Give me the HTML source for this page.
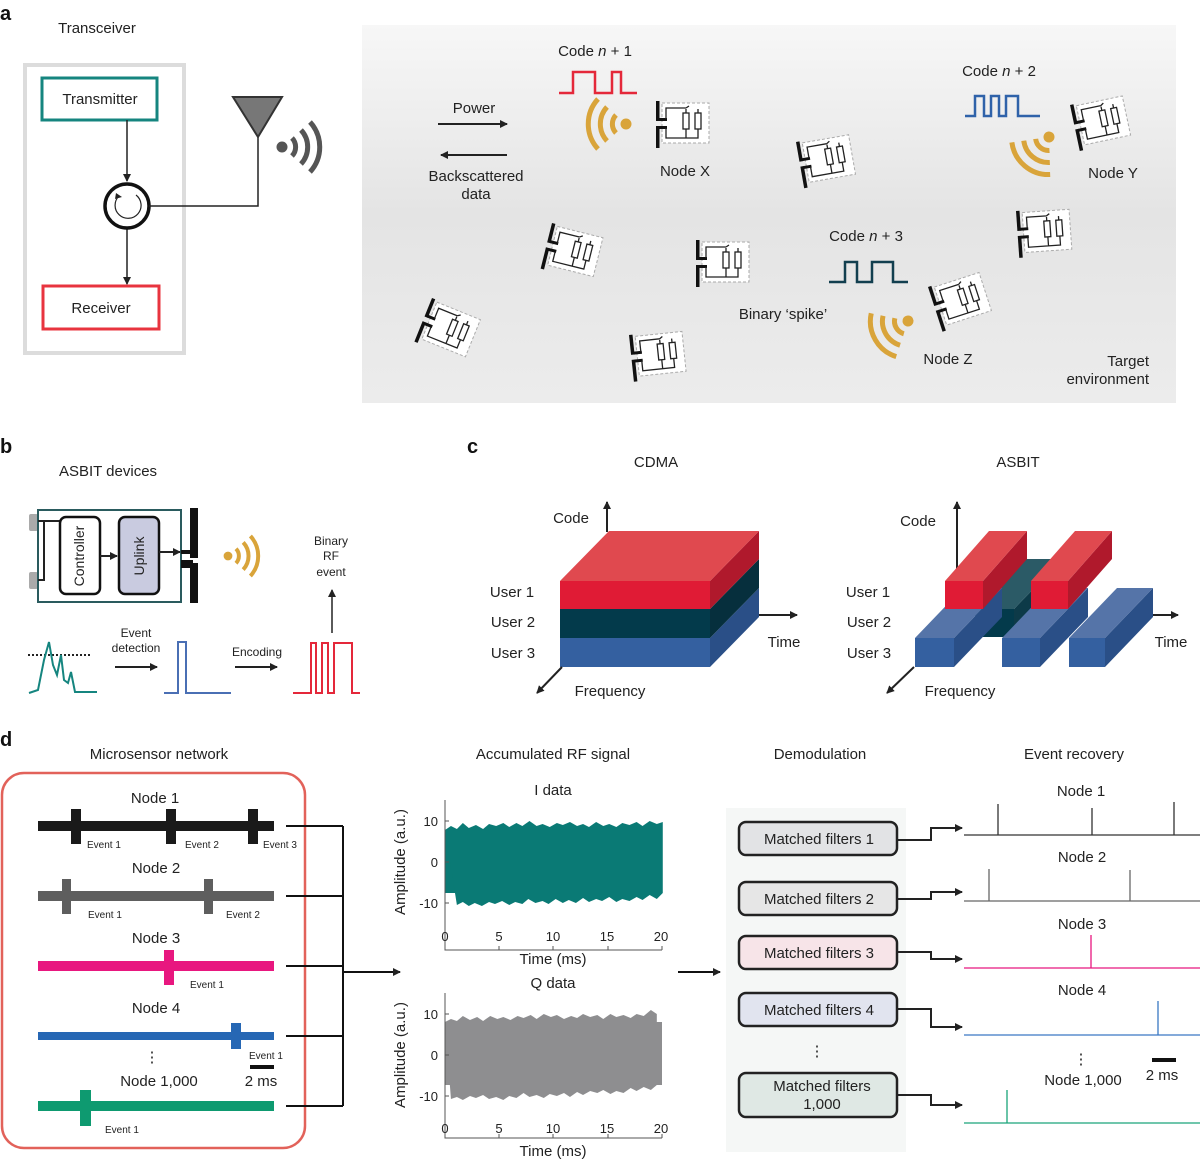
<!DOCTYPE html>
<html><head><meta charset="utf-8"><style>
html,body{margin:0;padding:0;background:#fff}
svg{display:block}
text{font-family:"Liberation Sans",sans-serif;fill:#222}
</style></head><body>
<svg width="1200" height="1161" viewBox="0 0 1200 1161" xmlns="http://www.w3.org/2000/svg">
<defs>
<linearGradient id="bg" x1="0" y1="0" x2="0" y2="1">
<stop offset="0" stop-color="#f7f7f7"/><stop offset="0.5" stop-color="#e4e4e4"/><stop offset="1" stop-color="#ececec"/></linearGradient>
<marker id="ah" markerWidth="8" markerHeight="8" refX="7" refY="4" orient="auto" markerUnits="userSpaceOnUse"><path d="M0,0 L8,4 L0,8 Z" fill="#222"/></marker>
<g id="nd">
<rect x="6" y="2" width="47" height="40" fill="#fff" stroke="#aaa" stroke-dasharray="3,2"/>
<rect x="0" y="0" width="3.5" height="20" fill="#111"/><rect x="0" y="25" width="3.5" height="22" fill="#111"/>
<rect x="3" y="17" width="8" height="3" fill="#111"/><rect x="3" y="25" width="8" height="3" fill="#111"/>
<path d="M10,18 V7 H30 M10,27 V37 H42 V28 M30,37 V28 M30,7 L33,5" fill="none" stroke="#222" stroke-width="1.3"/>
<rect x="27" y="12" width="6" height="16" fill="#fff" stroke="#222" stroke-width="1.3"/>
<rect x="39" y="12" width="6" height="16" fill="#fff" stroke="#222" stroke-width="1.3"/>
<path d="M30,12 V8 M42,12 V8" stroke="#222" stroke-width="1.3"/>
</g>
<g id="wv">
<circle cx="0" cy="0" r="5"/>
<path d="M-10,-9 A13,13 0 0 0 -10,9" fill="none" stroke-width="5"/>
<path d="M-19,-17 A25,25 0 0 0 -19,17" fill="none" stroke-width="5"/>
<path d="M-28,-25 A37,37 0 0 0 -28,25" fill="none" stroke-width="5"/>
</g>
</defs>

<g font-weight="bold" font-size="20"><text x="0" y="20" style="fill:#111">a</text><text x="0" y="453" style="fill:#111">b</text><text x="467" y="453" style="fill:#111">c</text><text x="0" y="746" style="fill:#111">d</text></g>

<!-- Panel a -->
<text x="97" y="33" font-size="15" text-anchor="middle">Transceiver</text>
<rect x="25" y="65" width="159" height="288" fill="none" stroke="#dcdcdc" stroke-width="4"/>
<rect x="42" y="78" width="115" height="42" fill="#fff" stroke="#15857f" stroke-width="3"/>
<text x="100" y="104" font-size="15" text-anchor="middle">Transmitter</text>
<rect x="43" y="286" width="116" height="43" fill="#fff" stroke="#e8343f" stroke-width="3"/>
<text x="101" y="313" font-size="15" text-anchor="middle">Receiver</text>
<line x1="127" y1="120" x2="127" y2="181" stroke="#222" stroke-width="1.5" marker-end="url(#ah)"/>
<line x1="127" y1="229" x2="127" y2="284" stroke="#222" stroke-width="1.5" marker-end="url(#ah)"/>
<circle cx="127" cy="206" r="22" fill="#fff" stroke="#111" stroke-width="3.5"/>
<path d="M136,195 A13,13 0 1 1 119,196" fill="none" stroke="#222" stroke-width="1.2"/>
<path d="M116,193 L122,197 L115,199Z" fill="#222"/>
<polyline points="149,206 258,206 258,136" fill="none" stroke="#222" stroke-width="1.5"/>
<path d="M233,97 L282,97 L258,137 Z" fill="#777" stroke="#333" stroke-width="2"/>
<g transform="translate(282,147) scale(-1,1)" fill="#555" stroke="#555"><use href="#wv"/></g>

<rect x="362" y="25" width="814" height="378" fill="url(#bg)"/>
<text x="474" y="113" font-size="15" text-anchor="middle">Power</text>
<line x1="438" y1="124" x2="507" y2="124" stroke="#222" stroke-width="2" marker-end="url(#ah)"/>
<line x1="507" y1="155" x2="441" y2="155" stroke="#222" stroke-width="2" marker-end="url(#ah)"/>
<text x="476" y="181" font-size="15" text-anchor="middle">Backscattered</text>
<text x="476" y="199" font-size="15" text-anchor="middle">data</text>
<text x="595" y="56" font-size="15" text-anchor="middle">Code <tspan font-style="italic">n</tspan> + 1</text>
<polyline points="559,93 573,93 573,72 595,72 595,93 612,93 612,72 621,72 621,93 637,93" fill="none" stroke="#e4283a" stroke-width="2.5"/>
<g transform="translate(626,124)" fill="#d9a43a" stroke="#d9a43a"><use href="#wv"/></g>
<use href="#nd" x="656" y="101"/>
<text x="685" y="176" font-size="15" text-anchor="middle">Node X</text>
<text x="999" y="76" font-size="15" text-anchor="middle">Code <tspan font-style="italic">n</tspan> + 2</text>
<polyline points="965,116 975,116 975,96 984,96 984,116 991,116 991,96 999,96 999,116 1006,116 1006,96 1018,96 1018,116 1040,116" fill="none" stroke="#2f62a9" stroke-width="2.5"/>
<g transform="translate(1049,137) rotate(-50)" fill="#d9a43a" stroke="#d9a43a"><use href="#wv"/></g>
<use href="#nd" transform="translate(1070,105) rotate(-12)"/>
<text x="1113" y="178" font-size="15" text-anchor="middle">Node Y</text>
<use href="#nd" transform="translate(796,142) rotate(-10)"/>
<use href="#nd" transform="translate(552,223) rotate(14)"/>
<use href="#nd" transform="translate(696,240)"/>
<use href="#nd" transform="translate(1016,211) rotate(-4)"/>
<use href="#nd" transform="translate(432,298) rotate(22)"/>
<use href="#nd" transform="translate(629,335) rotate(-6)"/>
<use href="#nd" transform="translate(928,287) rotate(-18)"/>
<text x="866" y="241" font-size="15" text-anchor="middle">Code <tspan font-style="italic">n</tspan> + 3</text>
<polyline points="829,282 845,282 845,262 857,262 857,282 872,282 872,262 893,262 893,282 908,282" fill="none" stroke="#123f4f" stroke-width="2.5"/>
<text x="783" y="319" font-size="15" text-anchor="middle">Binary ‘spike’</text>
<g transform="translate(908,321) rotate(-30)" fill="#d9a43a" stroke="#d9a43a"><use href="#wv"/></g>
<text x="948" y="364" font-size="15" text-anchor="middle">Node Z</text>
<text x="1149" y="366" font-size="15" text-anchor="end">Target</text>
<text x="1149" y="384" font-size="15" text-anchor="end">environment</text>

<!-- Panel b -->
<text x="108" y="476" font-size="15" text-anchor="middle">ASBIT devices</text>
<rect x="29" y="514" width="9" height="17" rx="2" fill="#aaa"/><rect x="29" y="572" width="9" height="17" rx="2" fill="#aaa"/>
<rect x="38" y="510" width="143" height="92" fill="none" stroke="#2a5b5e" stroke-width="2"/>
<path d="M38,521 H60 M44,521 V580 H38 M38,580 H44" fill="none" stroke="#222" stroke-width="2"/>
<rect x="60" y="517" width="40" height="77" rx="6" fill="#fff" stroke="#111" stroke-width="2.5"/>
<text transform="translate(84,556) rotate(-90)" font-size="14" text-anchor="middle">Controller</text>
<rect x="119" y="517" width="40" height="77" rx="6" fill="#c9cbe0" stroke="#111" stroke-width="2.5"/>
<text transform="translate(144,556) rotate(-90)" font-size="14" text-anchor="middle">Uplink</text>
<line x1="100" y1="556" x2="117" y2="556" stroke="#222" stroke-width="2" marker-end="url(#ah)"/>
<line x1="159" y1="552" x2="180" y2="552" stroke="#222" stroke-width="2" marker-end="url(#ah)"/>
<rect x="190" y="508" width="8" height="50" fill="#111"/><rect x="190" y="563" width="8" height="40" fill="#111"/>
<rect x="181" y="550" width="12" height="4" fill="#111"/><rect x="181" y="560" width="12" height="8" fill="#111"/>
<g transform="translate(228,556) scale(-0.8,0.8)" fill="#d9a43a" stroke="#d9a43a"><use href="#wv"/></g>
<text x="331" y="545" font-size="12" text-anchor="middle">Binary</text>
<text x="331" y="560" font-size="12" text-anchor="middle">RF</text>
<text x="331" y="576" font-size="12" text-anchor="middle">event</text>
<line x1="332" y1="633" x2="332" y2="590" stroke="#222" stroke-width="1.5" marker-end="url(#ah)"/>
<line x1="28" y1="655" x2="92" y2="655" stroke="#222" stroke-width="2" stroke-dasharray="2,2"/>
<polyline points="29,693 38,690 44,660 49,642 53,665 57,675 61,655 64,680 68,683 71,672 75,692 97,692" fill="none" stroke="#15857f" stroke-width="2"/>
<text x="136" y="637" font-size="12" text-anchor="middle">Event</text>
<text x="136" y="652" font-size="12" text-anchor="middle">detection</text>
<line x1="115" y1="667" x2="157" y2="667" stroke="#222" stroke-width="2" marker-end="url(#ah)"/>
<polyline points="164,693 178,693 178,642 186,642 186,693 231,693" fill="none" stroke="#4a6fb4" stroke-width="2"/>
<text x="257" y="656" font-size="12" text-anchor="middle">Encoding</text>
<line x1="235" y1="667" x2="277" y2="667" stroke="#222" stroke-width="2" marker-end="url(#ah)"/>
<polyline points="293,693 311,693 311,643 316,643 316,693 322,693 322,643 328,643 328,693 334,693 334,643 352,643 352,693 360,693" fill="none" stroke="#e4283a" stroke-width="2"/>

<!-- Panel c -->
<text x="656" y="467" font-size="15" text-anchor="middle">CDMA</text>
<text x="1018" y="467" font-size="15" text-anchor="middle">ASBIT</text>
<line x1="607" y1="532" x2="607" y2="502" stroke="#222" stroke-width="2" marker-end="url(#ah)"/>
<text x="571" y="523" font-size="15" text-anchor="middle">Code</text>
<polygon points="710,638 759,588 759,617 710,667" fill="#2a4f87"/>
<polygon points="710,609 759,559 759,588 710,638" fill="#062f3d"/>
<polygon points="710,581 759,531 759,559 710,609" fill="#b0192c"/>
<polygon points="560,581 609,531 759,531 710,581" fill="#e0494f"/>
<rect x="560" y="581" width="150" height="28" fill="#e01b35"/>
<rect x="560" y="609" width="150" height="29" fill="#033a4b"/>
<rect x="560" y="638" width="150" height="29" fill="#3460a0"/>
<line x1="759" y1="615" x2="797" y2="615" stroke="#222" stroke-width="2" marker-end="url(#ah)"/>
<line x1="562" y1="667" x2="537" y2="693" stroke="#222" stroke-width="2" marker-end="url(#ah)"/>
<g font-size="15"><text x="512" y="597" text-anchor="middle">User 1</text><text x="513" y="627" text-anchor="middle">User 2</text><text x="513" y="658" text-anchor="middle">User 3</text>
<text x="784" y="647" text-anchor="middle">Time</text><text x="610" y="696" text-anchor="middle">Frequency</text>
<text x="918" y="526" text-anchor="middle">Code</text>
<text x="868" y="597" text-anchor="middle">User 1</text><text x="869" y="627" text-anchor="middle">User 2</text><text x="869" y="658" text-anchor="middle">User 3</text>
<text x="1171" y="647" text-anchor="middle">Time</text><text x="960" y="696" text-anchor="middle">Frequency</text></g>
<line x1="957" y1="582" x2="957" y2="502" stroke="#222" stroke-width="2" marker-end="url(#ah)"/>
<line x1="1150" y1="615" x2="1178" y2="615" stroke="#222" stroke-width="2" marker-end="url(#ah)"/>
<line x1="914" y1="667" x2="887" y2="693" stroke="#222" stroke-width="2" marker-end="url(#ah)"/>
<g>
<polygon points="1105,638 1153,588 1153,617 1105,667" fill="#2a4f87"/><polygon points="1069,638 1117,588 1153,588 1105,638" fill="#5574a8"/><rect x="1069" y="638" width="36" height="29" fill="#3460a0"/>
<polygon points="1014,609 1062,559 1062,588 1014,637" fill="#0d3a48"/><polygon points="975,609 1023,559 1062,559 1014,609" fill="#2b5a66"/><rect x="975" y="609" width="39" height="28" fill="#033a4b"/>
<polygon points="1040,638 1088,588 1088,617 1040,667" fill="#2a4f87"/><polygon points="1002,638 1050,588 1088,588 1040,638" fill="#5574a8"/><rect x="1002" y="638" width="38" height="29" fill="#3460a0"/>
<polygon points="1068,581 1112,531 1112,559 1068,609" fill="#b0192c"/><polygon points="1031,581 1075,531 1112,531 1068,581" fill="#e0494f"/><rect x="1031" y="581" width="37" height="28" fill="#e01b35"/>
<polygon points="954,638 1002,588 1002,617 954,667" fill="#2a4f87"/><polygon points="915,638 963,588 1002,588 954,638" fill="#5574a8"/><rect x="915" y="638" width="39" height="29" fill="#3460a0"/>
<polygon points="983,581 1027,531 1027,559 983,609" fill="#b0192c"/><polygon points="945,581 989,531 1027,531 983,581" fill="#e0494f"/><rect x="945" y="581" width="38" height="28" fill="#e01b35"/>
</g>

<!-- Panel d -->
<g font-size="15"><text x="159" y="759" text-anchor="middle">Microsensor network</text><text x="553" y="759" text-anchor="middle">Accumulated RF signal</text><text x="820" y="759" text-anchor="middle">Demodulation</text><text x="1074" y="759" text-anchor="middle">Event recovery</text></g>
<rect x="2" y="773" width="303" height="375" rx="22" fill="none" stroke="#e2625a" stroke-width="2.5"/>
<g font-size="15" text-anchor="middle"><text x="155" y="803">Node 1</text><text x="156" y="873">Node 2</text><text x="156" y="943">Node 3</text><text x="156" y="1013">Node 4</text><text x="159" y="1086">Node 1,000</text><text x="261" y="1086">2 ms</text></g>
<text x="152" y="1062" font-size="15" text-anchor="middle">⋮</text>
<rect x="250" y="1065" width="24" height="4" fill="#111"/>
<g font-size="10"><text x="87" y="848">Event 1</text><text x="185" y="848">Event 2</text><text x="263" y="848">Event 3</text>
<text x="88" y="918">Event 1</text><text x="226" y="918">Event 2</text><text x="190" y="988">Event 1</text><text x="249" y="1059">Event 1</text><text x="105" y="1133">Event 1</text></g>
<rect x="38" y="821" width="236" height="10" fill="#1a1a1a"/><rect x="71" y="809" width="10" height="35" fill="#1a1a1a"/><rect x="166" y="809" width="10" height="35" fill="#1a1a1a"/><rect x="248" y="809" width="10" height="35" fill="#1a1a1a"/>
<rect x="38" y="891" width="236" height="10" fill="#5e5e5e"/><rect x="62" y="879" width="9" height="35" fill="#5e5e5e"/><rect x="204" y="879" width="9" height="35" fill="#5e5e5e"/>
<rect x="38" y="961" width="236" height="10" fill="#e8177f"/><rect x="164" y="950" width="10" height="35" fill="#e8177f"/>
<rect x="38" y="1032" width="236" height="8" fill="#2667b4"/><rect x="231" y="1023" width="10" height="26" fill="#2667b4"/>
<rect x="38" y="1101" width="236" height="10" fill="#0e9a70"/><rect x="80" y="1090" width="11" height="36" fill="#0e9a70"/>
<g stroke="#111" stroke-width="2" fill="none"><path d="M286,826 H343 M286,896 H343 M286,966 H343 M286,1036 H343 M286,1106 H343 M343,826 V1106"/></g>
<line x1="343" y1="972" x2="400" y2="972" stroke="#111" stroke-width="2" marker-end="url(#ah)"/>

<!-- I data -->
<text x="553" y="795" font-size="15" text-anchor="middle">I data</text>
<rect x="445" y="830" width="217" height="63" fill="#0a7a75"/>
<path transform="translate(445,0) scale(1.19,1) translate(-445,0)" d="M445,830 l5,-4 5,3 5,-6 5,5 6,-3 6,4 5,-5 6,2 6,-3 5,4 6,-4 5,3 6,-5 6,5 5,-2 6,3 6,-4 5,2 6,-3 6,4 5,-2 5,3 6,-5 6,4 5,-2 6,3 5,-4 6,2 6,-3 5,4 6,-5 6,3 5,-2 V893 l-5,6 -6,-4 -6,5 -5,-3 -6,4 -6,-2 -5,3 -6,-5 -6,4 -5,-2 -6,3 -5,-4 -6,5 -6,-3 -5,3 -6,-4 -6,5 -5,-3 -6,2 -6,-4 -5,5 -6,-2 -5,3 -6,-4 -6,3 -5,-2 -6,4 -6,-3 -5,3 -5,-4 -5,3Z" fill="#0a7a75"/>
<g stroke="#555" stroke-width="1" fill="none"><path d="M445,800 V950 H662 M445,821 h4 M445,862 h4 M445,903 h4 M499,950 v-4 M553,950 v-4 M608,950 v-4 M662,950 v-4"/></g>
<g font-size="13" text-anchor="end"><text x="438" y="826">10</text><text x="438" y="867">0</text><text x="438" y="908">-10</text></g>
<g font-size="13" text-anchor="middle"><text x="445" y="941">0</text><text x="499" y="941">5</text><text x="553" y="941">10</text><text x="607" y="941">15</text><text x="661" y="941">20</text></g>
<text x="553" y="964" font-size="15" text-anchor="middle">Time (ms)</text>
<text transform="translate(405,862) rotate(-90)" font-size="15" text-anchor="middle">Amplitude (a.u.)</text>
<!-- Q data -->
<text x="553" y="988" font-size="15" text-anchor="middle">Q data</text>
<rect x="445" y="1022" width="217" height="63" fill="#8e8e90"/>
<path transform="translate(445,0) scale(1.19,1) translate(-445,0)" d="M445,1022 l5,-3 5,2 5,-5 6,4 6,-3 5,4 6,-5 6,3 5,-2 6,3 6,-4 5,2 6,-3 5,4 6,-5 6,3 5,-2 6,4 6,-3 5,2 5,-4 6,3 6,-2 5,4 6,-5 5,3 6,-2 6,3 5,-4 6,2 6,-6 5,4 V1085 l-5,5 -6,-3 -6,4 -5,-3 -6,5 -6,-2 -5,3 -6,-4 -5,3 -6,-2 -6,4 -5,-3 -6,5 -5,-4 -6,3 -6,-2 -5,4 -6,-3 -6,2 -5,-4 -6,5 -6,-2 -5,4 -6,-3 -6,2 -5,-4 -6,3 -5,-2 -6,4 -5,-3 -5,2Z" fill="#8e8e90"/>
<g stroke="#555" stroke-width="1" fill="none"><path d="M445,993 V1138 H662 M445,1014 h4 M445,1055 h4 M445,1096 h4 M499,1138 v-4 M553,1138 v-4 M608,1138 v-4 M662,1138 v-4"/></g>
<g font-size="13" text-anchor="end"><text x="438" y="1019">10</text><text x="438" y="1060">0</text><text x="438" y="1101">-10</text></g>
<g font-size="13" text-anchor="middle"><text x="445" y="1133">0</text><text x="499" y="1133">5</text><text x="553" y="1133">10</text><text x="607" y="1133">15</text><text x="661" y="1133">20</text></g>
<text x="553" y="1156" font-size="15" text-anchor="middle">Time (ms)</text>
<text transform="translate(405,1055) rotate(-90)" font-size="15" text-anchor="middle">Amplitude (a.u.)</text>

<line x1="678" y1="972" x2="720" y2="972" stroke="#111" stroke-width="2" marker-end="url(#ah)"/>
<rect x="726" y="808" width="180" height="344" fill="#f5f7f6"/>
<g stroke="#222" stroke-width="2.5">
<rect x="739" y="822" width="158" height="33" rx="7" fill="#e2e3e5"/>
<rect x="739" y="882" width="158" height="33" rx="7" fill="#e6e6e6"/>
<rect x="739" y="936" width="158" height="33" rx="7" fill="#f7e4e8"/>
<rect x="739" y="993" width="158" height="33" rx="7" fill="#e1e4ef"/>
<rect x="739" y="1073" width="158" height="44" rx="7" fill="#dfe8e4"/>
</g>
<g font-size="15" text-anchor="middle"><text x="819" y="844">Matched filters 1</text><text x="819" y="904">Matched filters 2</text><text x="819" y="958">Matched filters 3</text><text x="819" y="1015">Matched filters 4</text><text x="822" y="1091">Matched filters</text><text x="822" y="1109">1,000</text></g>
<text x="817" y="1056" font-size="15" text-anchor="middle">⋮</text>
<g stroke="#222" stroke-width="2" fill="none">
<polyline points="897,840 931,840 931,828 962,828" marker-end="url(#ah)"/>
<polyline points="897,899 931,899 931,892 962,892" marker-end="url(#ah)"/>
<polyline points="897,952 931,952 931,959 962,959" marker-end="url(#ah)"/>
<polyline points="897,1009 931,1009 931,1027 962,1027" marker-end="url(#ah)"/>
<polyline points="897,1095 931,1095 931,1105 962,1105" marker-end="url(#ah)"/>
</g>
<g font-size="15" text-anchor="middle"><text x="1081" y="796">Node 1</text><text x="1082" y="862">Node 2</text><text x="1082" y="929">Node 3</text><text x="1082" y="995">Node 4</text><text x="1083" y="1085">Node 1,000</text><text x="1162" y="1080">2 ms</text></g>
<text x="1081" y="1064" font-size="15" text-anchor="middle">⋮</text>
<rect x="1152" y="1058" width="24" height="4" fill="#111"/>
<g stroke-width="1.3">
<path d="M964,835 H1200 M998,835 V804 M1092,835 V808 M1174,835 V802" stroke="#333"/>
<path d="M964,901 H1200 M989,901 V869 M1130,901 V870" stroke="#666"/>
<path d="M964,968 H1200 M1091,968 V935" stroke="#e8177f"/>
<path d="M964,1035 H1200 M1158,1035 V1001" stroke="#3a78c4"/>
<path d="M964,1123 H1200 M1007,1123 V1090" stroke="#1aa57a"/>
</g>
</svg>
</body></html>
